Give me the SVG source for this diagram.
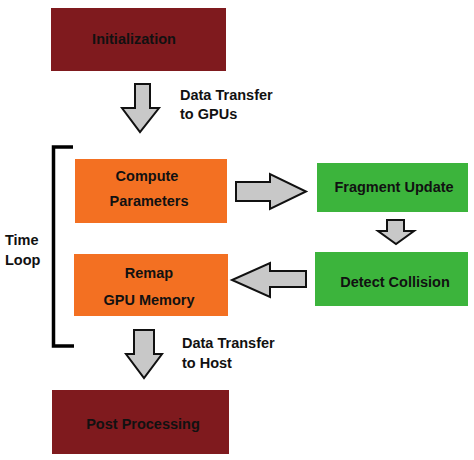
<svg xmlns="http://www.w3.org/2000/svg" width="474" height="460" viewBox="0 0 474 460">
<style>
text{font-family:"Liberation Sans",Arial,sans-serif;font-weight:bold;font-size:14.5px;fill:#111}
.red{fill:#7f1a1e}
.org{fill:#f37022}
.grn{fill:#3cb43c}
.arr{fill:#c8c8c8;stroke:#111;stroke-width:2;stroke-linejoin:miter}
.br{fill:none;stroke:#000;stroke-width:3.5}
.c{text-anchor:middle}
</style>
<rect width="474" height="460" fill="#fff"/>
<g id="initialization"><rect class="red" x="51" y="8" width="175" height="63"/><text class="c" x="134" y="44">Initialization</text></g>
<g id="compute"><rect class="org" x="75" y="159" width="152" height="64"/><text class="c" x="147" y="181">Compute</text><text class="c" x="149" y="206">Parameters</text></g>
<g id="fragment"><rect class="grn" x="317" y="163" width="151" height="49"/><text class="c" x="394" y="192">Fragment Update</text></g>
<g id="detect"><rect class="grn" x="315" y="252" width="153" height="54"/><text class="c" x="395" y="287">Detect Collision</text></g>
<g id="remap"><rect class="org" x="74" y="254" width="154" height="62"/><text class="c" x="149" y="278">Remap</text><text class="c" x="149" y="305">GPU Memory</text></g>
<g id="post"><rect class="red" x="52" y="390" width="177" height="64"/><text class="c" x="143" y="429">Post Processing</text></g>
<g id="timeloop"><path class="br" d="M73,147 H53.5 V346 H74"/><text x="5" y="245">Time</text><text x="5" y="265">Loop</text></g>
<g id="connectors">
<path class="arr" d="M135,84 H150 V108 H159 L140,132 L122,108 H135 Z"/>
<path class="arr" d="M236,182 H270 V174 L306,191.5 L270,209 V201 H236 Z"/>
<path class="arr" d="M387,220 H404 V231 H414 L396,244 L378,231 H387 Z"/>
<path class="arr" d="M306,271 H270 V263 L232,280 L270,297 V287 H306 Z"/>
<path class="arr" d="M134,330 H154 V354 H162 L144,378 L126,354 H134 Z"/>
<text x="180" y="100">Data Transfer</text><text x="180" y="119">to GPUs</text>
<text x="182" y="348">Data Transfer</text><text x="182" y="368">to Host</text>
</g>
</svg>
